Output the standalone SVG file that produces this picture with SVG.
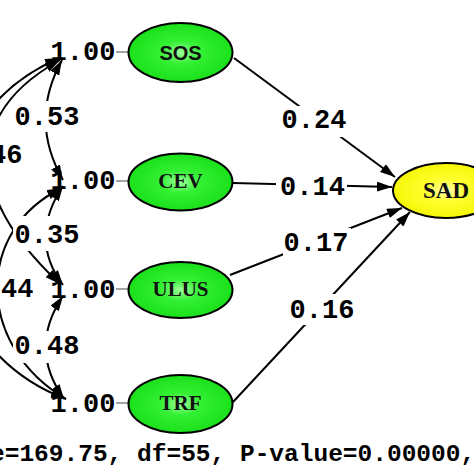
<svg xmlns="http://www.w3.org/2000/svg" width="474" height="474" viewBox="0 0 474 474">
<defs>
<radialGradient id="gGreen" cx="50%" cy="50%" r="55%">
<stop offset="0%" stop-color="#9dff9d"/>
<stop offset="35%" stop-color="#33f033"/>
<stop offset="100%" stop-color="#16de16"/>
</radialGradient>
<radialGradient id="gYellow" cx="50%" cy="50%" r="55%">
<stop offset="0%" stop-color="#ffffb0"/>
<stop offset="35%" stop-color="#ffff30"/>
<stop offset="100%" stop-color="#f5f500"/>
</radialGradient>
<marker id="arr" markerUnits="userSpaceOnUse" markerWidth="16" markerHeight="11" refX="15" refY="5" orient="auto-start-reverse">
<path d="M0,0 L15,5 L0,10 z" fill="#000"/>
</marker>
</defs>
<style>
.cv{fill:none;stroke:#000;stroke-width:2;marker-start:url(#arr);marker-end:url(#arr)}
.ln{fill:none;stroke:#000;stroke-width:2;marker-end:url(#arr)}
.dash{stroke:#666;stroke-width:1.2}
.bg{fill:#fff}
.lab{font-family:"Liberation Mono","Courier New",monospace;font-weight:bold;font-size:27px;fill:#000;text-anchor:middle}
.ell{stroke:#000;stroke-width:2}
.nm{font-weight:bold;fill:#111;text-anchor:middle}
.serif{font-family:"Liberation Serif","Times New Roman",serif;font-size:21px}
.sans{font-family:"Liberation Sans",Arial,sans-serif;font-size:20px}
.foot{font-family:"Liberation Mono","Courier New",monospace;font-weight:bold;font-size:24.5px;fill:#000}
</style>
<g id="connectors">
<path class="cv" d="M60,58 C-90,120 -90,340 66,399"/>
<path class="cv" d="M60,60 C-30,110 -40,190 60,284"/>
<path class="cv" d="M62,188 C-25,230 -25,345 66,399"/>
<path class="cv" d="M62,60 C40,100 40,140 63,180"/>
<path class="cv" d="M63,186 C40,220 40,255 63,285"/>
<path class="cv" d="M63,296 C40,330 40,365 64,399"/>
<line class="ln" x1="234" y1="58" x2="395" y2="177"/>
<line class="ln" x1="233" y1="183" x2="392" y2="187"/>
<line class="ln" x1="230" y1="275" x2="402" y2="208"/>
<line class="ln" x1="233" y1="402" x2="410" y2="212"/>
<line class="dash" x1="116" y1="52" x2="129" y2="52"/>
<line class="dash" x1="116" y1="181" x2="129" y2="181"/>
<line class="dash" x1="116" y1="289" x2="129" y2="289"/>
<line class="dash" x1="116" y1="403" x2="129" y2="403"/>
<rect class="bg" x="281" y="106" width="66" height="31"/>
<rect class="bg" x="276" y="176" width="71" height="22"/>
<rect class="bg" x="283" y="228" width="68" height="28"/>
<rect class="bg" x="289" y="294" width="66" height="31"/>
<rect class="bg" x="13" y="101" width="68" height="31"/>
<rect class="bg" x="13" y="216" width="68" height="35"/>
<rect class="bg" x="13" y="331" width="68" height="32"/>
<rect class="bg" x="-41" y="141" width="65" height="28"/>
<rect class="bg" x="-32" y="276" width="66" height="27"/>
<text class="lab" x="314" y="128">0.24</text>
<text class="lab" x="312.5" y="195">0.14</text>
<text class="lab" x="316" y="251">0.17</text>
<text class="lab" x="322" y="318">0.16</text>
<text class="lab" x="47" y="125">0.53</text>
<text class="lab" x="47" y="243">0.35</text>
<text class="lab" x="47" y="354">0.48</text>
<text class="lab" x="-10" y="163">0.46</text>
<text class="lab" x="1" y="297">0.44</text>
</g>
<g id="node-SOS">
<text class="lab" x="83" y="60">1.00</text>
<ellipse class="ell" cx="180.5" cy="52.5" rx="52" ry="29.5" fill="url(#gGreen)"/>
<text class="nm sans" x="180.5" y="59.5">SOS</text>
</g>
<g id="node-CEV">
<text class="lab" x="83" y="189">1.00</text>
<ellipse class="ell" cx="180.5" cy="182" rx="52" ry="28.5" fill="url(#gGreen)"/>
<text class="nm serif" x="180.5" y="187.5">CEV</text>
</g>
<g id="node-ULUS">
<text class="lab" x="83" y="298">1.00</text>
<ellipse class="ell" cx="180.5" cy="290" rx="52" ry="28" fill="url(#gGreen)"/>
<text class="nm serif" x="180.5" y="295.5">ULUS</text>
</g>
<g id="node-TRF">
<text class="lab" x="83" y="412">1.00</text>
<ellipse class="ell" cx="180.5" cy="404" rx="52" ry="29" fill="url(#gGreen)"/>
<text class="nm serif" x="180.5" y="410">TRF</text>
</g>
<g id="node-SAD">
<ellipse class="ell" cx="446" cy="190.5" rx="53" ry="27.5" fill="url(#gYellow)"/>
<text class="nm serif" x="446" y="197.5" style="font-size:23px">SAD</text>
</g>
<text class="foot" x="-10" y="461">e=169.75, df=55, P-value=0.00000,</text>
</svg>
